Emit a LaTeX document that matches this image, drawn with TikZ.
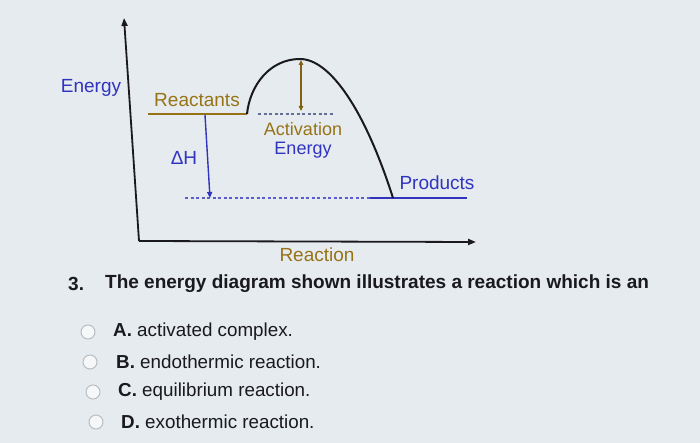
\documentclass[tikz,border=0pt]{standalone}
\usepackage{fontspec}
\setmainfont{Liberation Sans}
\usetikzlibrary{arrows.meta}
\definecolor{bg}{RGB}{230,235,239}
\definecolor{eblue}{RGB}{48,52,190}
\definecolor{egold}{RGB}{150,115,22}
\definecolor{dashgray}{RGB}{100,110,150}
\definecolor{qtext}{RGB}{25,25,30}
\definecolor{radio}{RGB}{185,190,195}
\tikzset{
  lbl/.style={inner sep=0pt, font=\fontsize{19}{22}\selectfont},
  bluelbl/.style={lbl, text=eblue},
  goldlbl/.style={lbl, text=egold},
  axis/.style={line width=1.8pt, draw=qtext, -{Triangle[length=8pt,width=6pt]}},
  level/.style={line width=2pt},
  dashlevel/.style={line width=1.3pt, dash pattern=on 3pt off 2.5pt},
  radiobtn/.style={circle, draw=radio, fill=white!60!bg, line width=1pt, minimum size=14pt, inner sep=0pt},
  opt/.style={anchor=west, inner sep=0pt, text=qtext, font=\fontsize{18.8}{22}\selectfont},
}
\begin{document}
\begin{tikzpicture}[x=1pt,y=-1pt]
\fill[bg] (0,0) rectangle (700,443);
\useasboundingbox (0,0) rectangle (700,443);
% axes
\coordinate (origin) at (139,241);
\coordinate (ytop) at (124,18);
\coordinate (xend) at (476,242);
\draw[axis] (origin) -- (ytop);
\draw[axis] (origin) -- (xend);
% levels
\coordinate (r0) at (148,114);
\coordinate (r1) at (247,114);
\coordinate (peak) at (300,59);
\coordinate (p0) at (393,198);
\coordinate (p1) at (467,198);
\coordinate (pd) at (370,198);
\draw[level, egold] (r0) -- (r1);
\draw[level, eblue] (pd) -- (p1);
\coordinate (rd0) at (258,114);
\coordinate (rd1) at (333,114);
\draw[dashlevel, dashgray] (rd0) -- (rd1);
\coordinate (pdd) at (185,198);
\draw[dashlevel, eblue!80!white] (pdd) -- (pd);
% curve
\draw[line width=2pt, qtext] (r1) .. controls (250,85) and (270,59) .. (peak)
   .. controls (330,59) and (365,110) .. (p0);
% activation arrow
\coordinate (a0) at (301,60);
\coordinate (a1) at (301,111);
\draw[line width=1.4pt, egold!85!black, {Triangle[length=5pt,width=4.5pt]}-{Triangle[length=5pt,width=4.5pt]}] (a0) -- (a1);
% delta H arrow
\coordinate (h0) at (205,115);
\coordinate (h1) at (210,198);
\draw[line width=1.4pt, eblue, -{Triangle[length=6pt,width=5pt]}] (h0) -- (h1);
% labels
\node[bluelbl] (energy) at (91,88) {Energy};
\node[goldlbl] (react) at (197,100) {Reactants};
\node[goldlbl, font=\fontsize{18}{20}\selectfont] (act) at (303,129) {Activation};
\node[bluelbl, font=\fontsize{18}{20}\selectfont] (actE) at (303,150) {Energy};
\node[bluelbl] (dh) at (184,158) {ΔH};
\node[bluelbl] (prod) at (437,183) {Products};
\node[goldlbl] (reac) at (317,255) {Reaction};
% question
\node[anchor=west, inner sep=0pt, text=qtext, font=\bfseries\fontsize{19}{22}\selectfont] (qn) at (68,284) {3.};
\node[anchor=west, inner sep=0pt, text=qtext, font=\bfseries\fontsize{19}{22}\selectfont] (q) at (105,284) {The energy diagram shown illustrates a reaction which is an};
% options
\node[radiobtn] (ra) at (88,332) {};
\node[radiobtn] (rb) at (90,362) {};
\node[radiobtn] (rc) at (93,392) {};
\node[radiobtn] (rd) at (96,422) {};
\node[opt] (oa) at (113,332) {\textbf{A.} activated complex.};
\node[opt] (ob) at (116,362) {\textbf{B.} endothermic reaction.};
\node[opt] (oc) at (118,392) {\textbf{C.} equilibrium reaction.};
\node[opt] (od) at (121,422) {\textbf{D.} exothermic reaction.};
\end{tikzpicture}
\end{document}
